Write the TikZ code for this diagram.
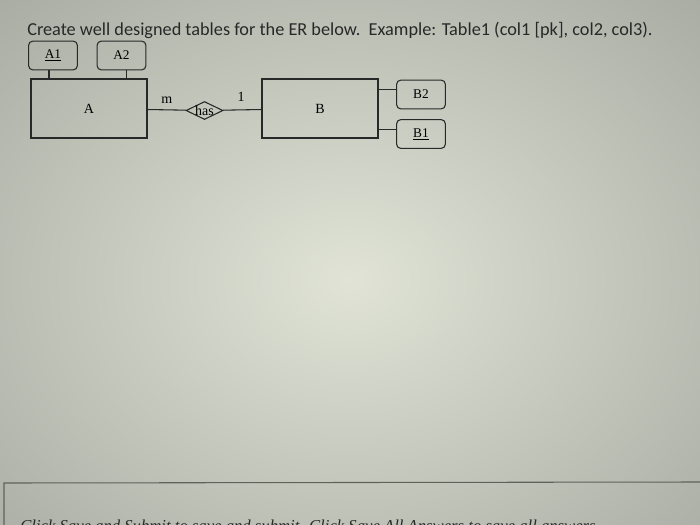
\documentclass[tikz,border=0pt]{standalone}
\usepackage{fontspec}
\setmainfont{Liberation Serif}
\newfontfamily\titlefont{Carlito}
\usetikzlibrary{shapes.geometric}
\definecolor{inkgray}{RGB}{40,40,40}
\definecolor{glowin}{RGB}{224,227,214}
\definecolor{glowout}{RGB}{128,130,124}
\definecolor{panelline}{RGB}{95,97,91}
\tikzset{
  entitybox/.style={draw=inkgray, line width=0.8pt, minimum width=87pt, minimum height=44.25pt, inner sep=0pt, font=\fontsize{10.5}{11}\selectfont},
  attrbox/.style={draw=inkgray, line width=0.8pt, rounded corners=3pt, minimum width=36.5pt, minimum height=21.5pt, inner sep=0pt, font=\fontsize{10}{11}\selectfont},
  relbox/.style={diamond, draw=inkgray, line width=0.8pt, minimum width=27.75pt, minimum height=13.5pt, inner sep=-3pt, font=\fontsize{10.5}{11}\selectfont},
  link/.style={draw=inkgray, line width=0.8pt},
  cardlabel/.style={font=\fontsize{10.5}{11}\selectfont, inner sep=1pt}
}
\begin{document}
\begin{tikzpicture}[x=0.75pt, y=-0.75pt]
\useasboundingbox (0,0) rectangle (700,525);
\clip (0,0) rectangle (700,525);
\fill[glowout] (0,0) rectangle (700,525);
\shade[inner color=glowin, outer color=glowout] (350,280) ellipse [x radius=900, y radius=700];
% question text
\node[anchor=base west, inner sep=0pt, text=inkgray, font=\titlefont\fontsize{13.7}{15}\selectfont] (title) at (27,35) {Create well designed tables for the ER below.\ \ Example: Table1 (col1 [pk], col2, col3).};
% entities
\node[entitybox] (A) at (89,108.5) {A};
\node[entitybox] (B) at (320,108.5) {B};
% attributes
\node[attrbox] (A1) at (53,55.5) {\underline{A1}};
\node[attrbox] (A2) at (121.5,55.5) {A2};
\node[attrbox] (B2) at (421,94.5) {B2};
\node[attrbox] (B1) at (421,134) {\underline{B1}};
% relationship
\node[relbox] (has) at (204.5,110.5) {has};
\draw[link] (A) -- (has) node[cardlabel, pos=0.5, above=3pt] (mlabel) {m};
\draw[link] (has) -- (B) node[cardlabel, pos=0.47, above=5pt] (onelabel) {1};
% attribute links
\coordinate (a1c) at ([xshift=-3pt]A1.south);
\coordinate (a2c) at ([xshift=4pt]A2.south);
\coordinate (b2c) at ([yshift=4.1pt]B2.west);
\coordinate (b1c) at ([yshift=3.7pt]B1.west);
\draw[link] (a1c) -- (a1c |- A.north);
\draw[link] (a2c) -- (a2c |- A.north);
\draw[link] (b2c) -- (b2c -| B.east);
\draw[link] (b1c) -- (b1c -| B.east);
% answer panel
\draw[panelline, line width=0.8pt] (4,525) -- (4,483) -- (700,482);
\node[anchor=base west, inner sep=0pt, text=inkgray, font=\itshape\fontsize{12.5}{14}\selectfont] (footer) at (20,531) {Click Save and Submit to save and submit. Click Save All Answers to save all answers.};
\end{tikzpicture}
\end{document}
